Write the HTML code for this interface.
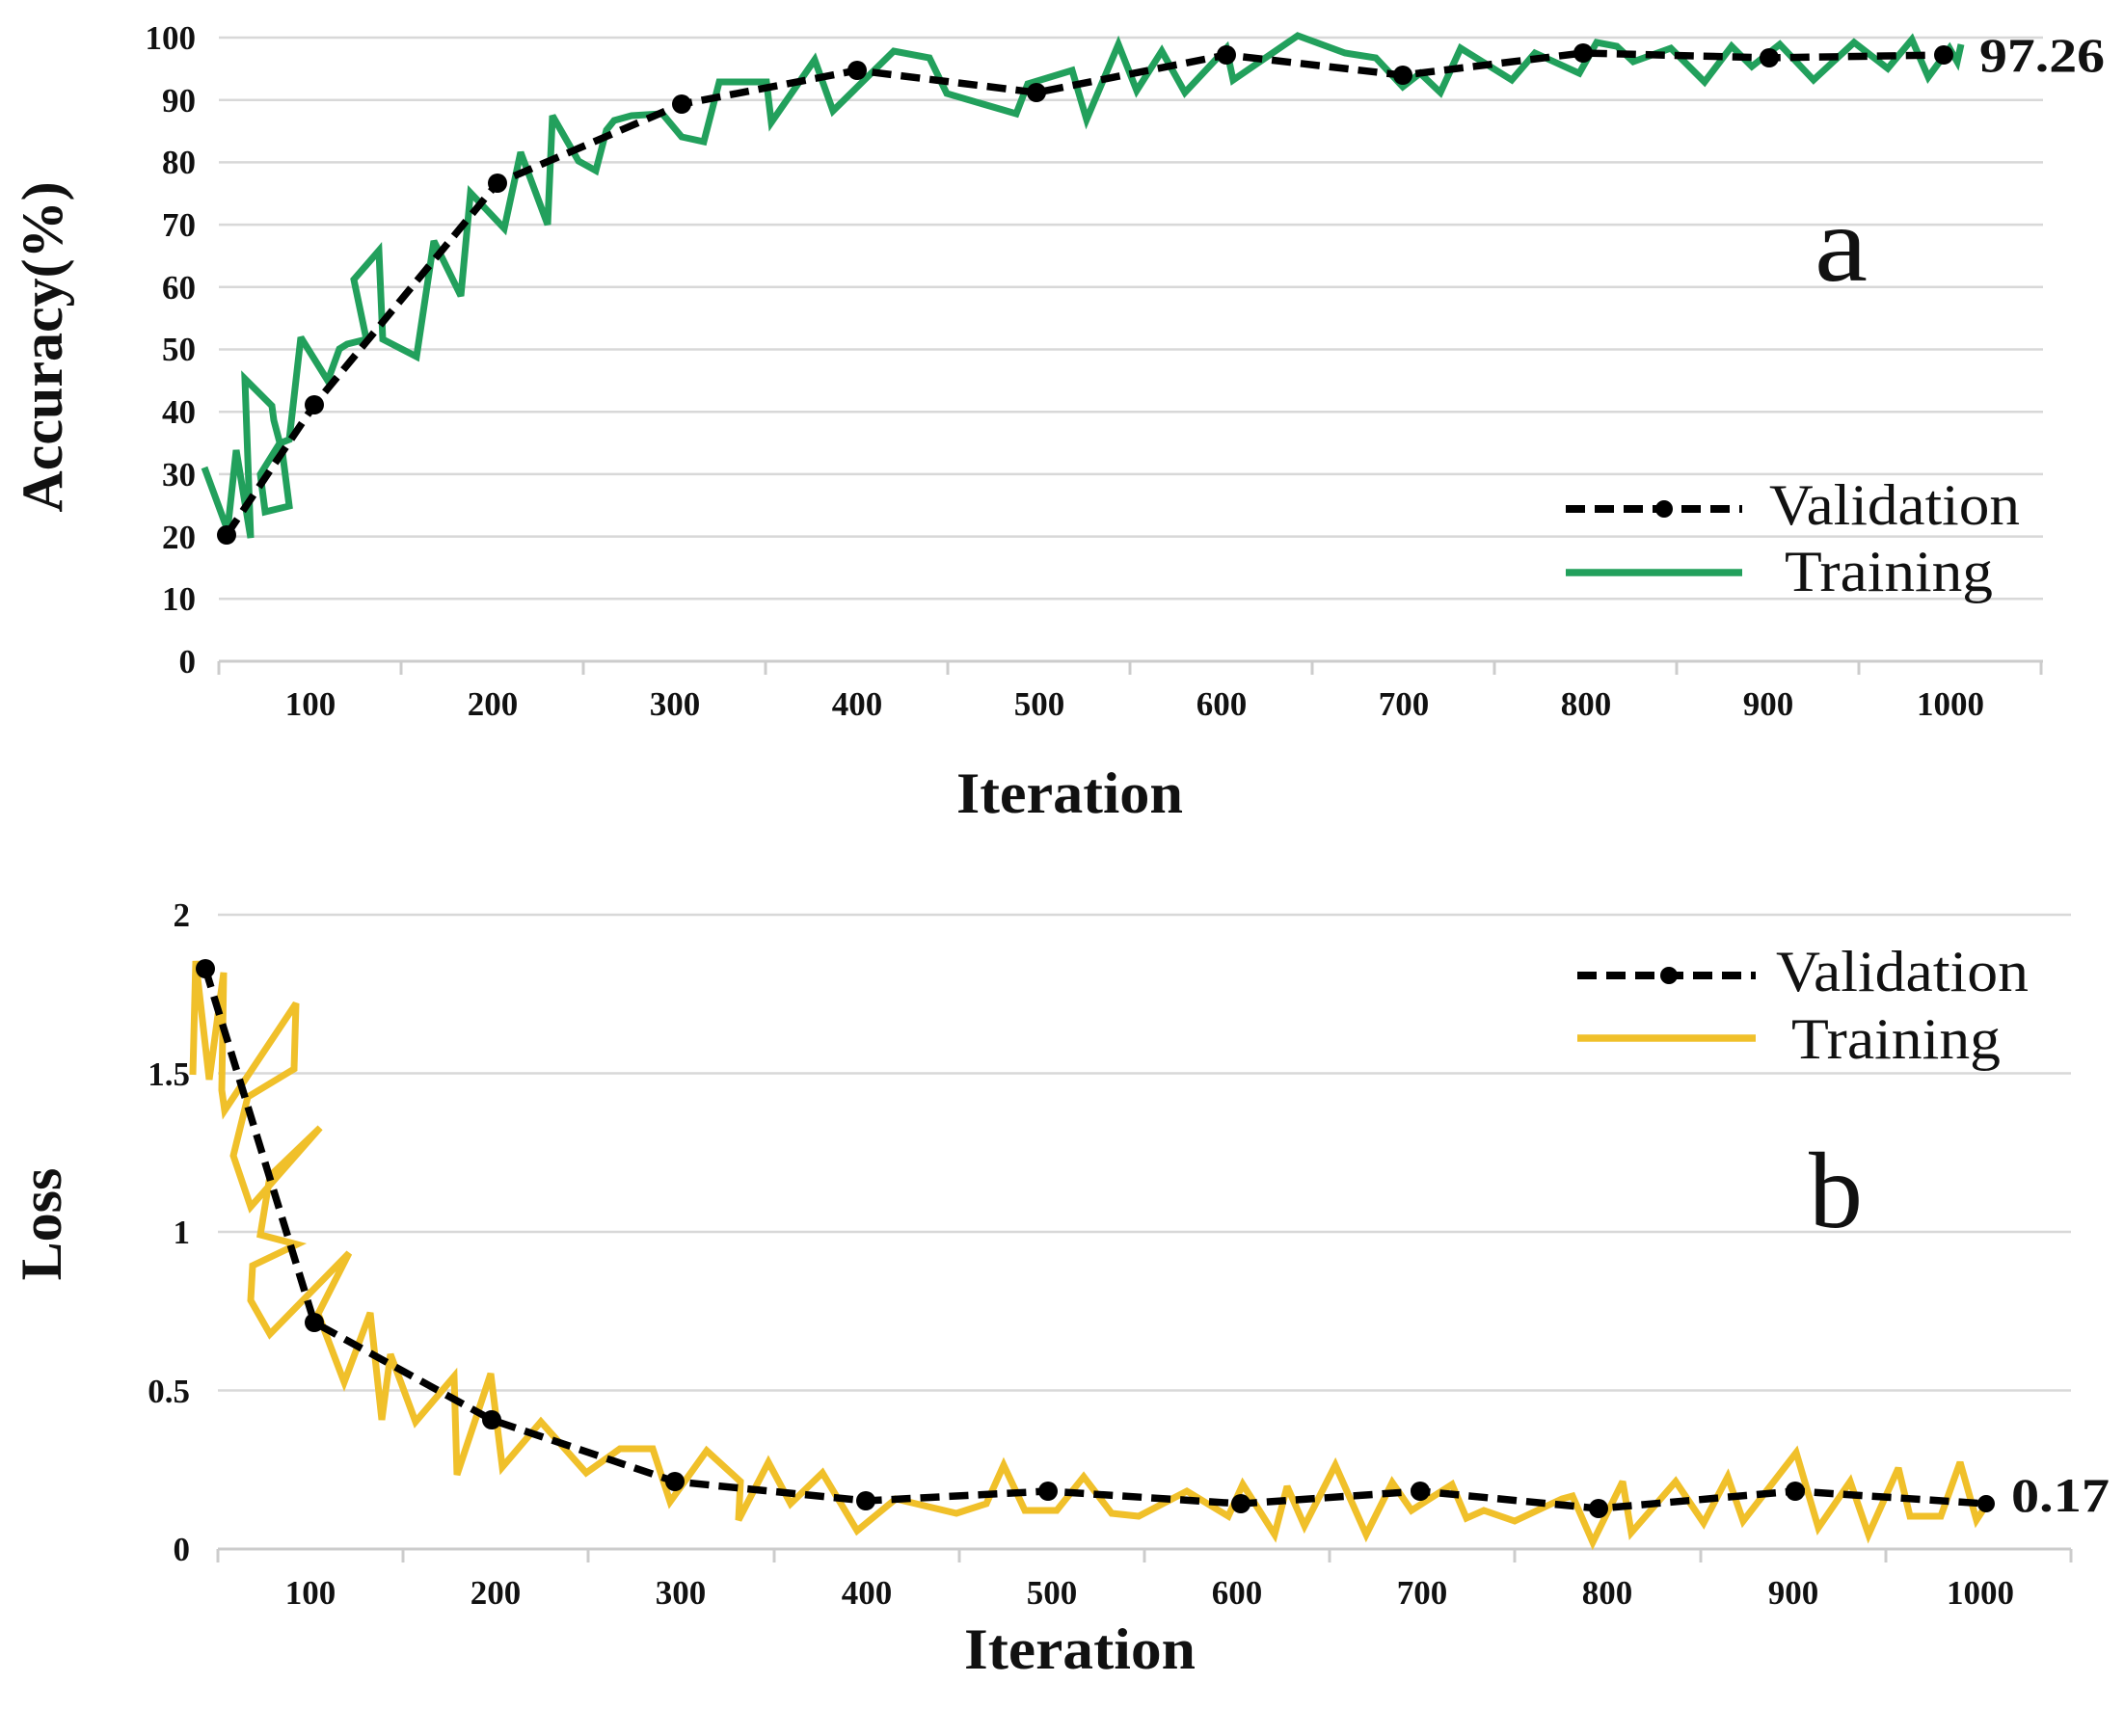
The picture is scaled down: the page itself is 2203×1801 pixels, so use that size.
<!DOCTYPE html>
<html>
<head>
<meta charset="utf-8">
<style>
  html, body { margin: 0; padding: 0; background: #ffffff; }
  svg { display: block; }
  .tick { font-family: "Liberation Serif", "Times New Roman", serif; font-weight: bold; font-size: 35px; fill: #111; }
  .title { font-family: "Liberation Serif", "Times New Roman", serif; font-weight: bold; font-size: 60px; fill: #111; }
  .leg { font-family: "Liberation Serif", "Times New Roman", serif; font-size: 60px; fill: #111; }
  .big { font-family: "Liberation Serif", "Times New Roman", serif; font-size: 112px; fill: #111; }
  .end { font-family: "Liberation Serif", "Times New Roman", serif; font-weight: bold; font-size: 50px; fill: #111; }
  .grid { stroke: #d8d8d8; stroke-width: 2.5; }
  .axis { stroke: #cccccc; stroke-width: 3; }
</style>
</head>
<body>
<svg width="2203" height="1801" viewBox="0 0 2203 1801" xmlns="http://www.w3.org/2000/svg">
  <rect x="0" y="0" width="2203" height="1801" fill="#ffffff"/>

  <!-- ================= TOP CHART (a) ================= -->
  <g>
    <line class="grid" x1="227" y1="39" x2="2119" y2="39"/>
    <line class="grid" x1="227" y1="103.7" x2="2119" y2="103.7"/>
    <line class="grid" x1="227" y1="168.4" x2="2119" y2="168.4"/>
    <line class="grid" x1="227" y1="233.1" x2="2119" y2="233.1"/>
    <line class="grid" x1="227" y1="297.8" x2="2119" y2="297.8"/>
    <line class="grid" x1="227" y1="362.5" x2="2119" y2="362.5"/>
    <line class="grid" x1="227" y1="427.2" x2="2119" y2="427.2"/>
    <line class="grid" x1="227" y1="491.9" x2="2119" y2="491.9"/>
    <line class="grid" x1="227" y1="556.6" x2="2119" y2="556.6"/>
    <line class="grid" x1="227" y1="621.3" x2="2119" y2="621.3"/>
    <line class="axis" x1="227" y1="686" x2="2119" y2="686"/>
    <g class="axis">
      <line x1="227" y1="686" x2="227" y2="700"/>
      <line x1="416" y1="686" x2="416" y2="700"/>
      <line x1="605" y1="686" x2="605" y2="700"/>
      <line x1="794" y1="686" x2="794" y2="700"/>
      <line x1="983" y1="686" x2="983" y2="700"/>
      <line x1="1172" y1="686" x2="1172" y2="700"/>
      <line x1="1361" y1="686" x2="1361" y2="700"/>
      <line x1="1550" y1="686" x2="1550" y2="700"/>
      <line x1="1739" y1="686" x2="1739" y2="700"/>
      <line x1="1928" y1="686" x2="1928" y2="700"/>
      <line x1="2117" y1="686" x2="2117" y2="700"/>
    </g>
    <g class="tick" text-anchor="end">
      <text x="203" y="51">100</text>
      <text x="203" y="116">90</text>
      <text x="203" y="180">80</text>
      <text x="203" y="245">70</text>
      <text x="203" y="310">60</text>
      <text x="203" y="374">50</text>
      <text x="203" y="439">40</text>
      <text x="203" y="504">30</text>
      <text x="203" y="569">20</text>
      <text x="203" y="633">10</text>
      <text x="203" y="698">0</text>
    </g>
    <g class="tick" text-anchor="middle">
      <text x="322" y="742">100</text>
      <text x="511" y="742">200</text>
      <text x="700" y="742">300</text>
      <text x="889" y="742">400</text>
      <text x="1078" y="742">500</text>
      <text x="1267" y="742">600</text>
      <text x="1456" y="742">700</text>
      <text x="1645" y="742">800</text>
      <text x="1834" y="742">900</text>
      <text x="2023" y="742">1000</text>
    </g>
    <text class="title" x="992" y="843" textLength="235" lengthAdjust="spacingAndGlyphs">Iteration</text>
    <text class="title" transform="translate(64,360) rotate(-90)" text-anchor="middle" font-size="58">Accuracy(%)</text>

    <polyline fill="none" stroke="#22a05c" stroke-width="7" stroke-linejoin="miter" stroke-miterlimit="3"
      points="212,485 236,550 245,467 260,558 254,393 282,421 284,436 293,470 300,525 275,531 270,492 290,460 300,456 312,350 340,395 352,362 360,357 380,352 367,290 393,260 397,352 432,370 450,250 478,307 488,200 523,237 540,158 568,233 573,120 600,167 618,177 629,135 637,125 655,120 687,118 707,142 730,147 746,85 795,85 800,127 845,62 864,115 927,53 964,60 982,97 1054,118 1066,87 1112,73 1127,124 1160,46 1179,94 1205,53 1229,96 1272,50 1279,83 1346,37 1395,55 1427,60 1455,90 1473,76 1494,96 1515,50 1568,83 1592,55 1638,76 1656,44 1677,48 1694,64 1733,50 1768,85 1796,48 1817,69 1846,46 1881,83 1923,44 1958,71 1983,41 2000,80 2022,50 2030,64 2034,46"/>

    <polyline fill="none" stroke="#000" stroke-width="7.5" stroke-dasharray="20 10"
      points="235,555 326,420 516,190 707,108 889,73 1075,96 1272,57 1455,78 1642,55 1835,60 2016,57"/>
    <g fill="#000">
      <circle cx="235" cy="555" r="10"/>
      <circle cx="326" cy="420" r="10"/>
      <circle cx="516" cy="190" r="10"/>
      <circle cx="707" cy="108" r="10"/>
      <circle cx="889" cy="73" r="10"/>
      <circle cx="1075" cy="96" r="10"/>
      <circle cx="1272" cy="57" r="10"/>
      <circle cx="1455" cy="78" r="10"/>
      <circle cx="1642" cy="55" r="10"/>
      <circle cx="1835" cy="60" r="10"/>
      <circle cx="2016" cy="57" r="10"/>
    </g>
    <text class="end" x="2053" y="74" textLength="130" lengthAdjust="spacingAndGlyphs">97.26</text>

    <text class="big" x="1882" y="291" textLength="55" lengthAdjust="spacingAndGlyphs">a</text>

    <line x1="1624" y1="528" x2="1807" y2="528" stroke="#000" stroke-width="8" stroke-dasharray="20 10"/>
    <circle cx="1726" cy="528" r="9" fill="#000"/>
    <text class="leg" x="1835" y="544" textLength="260" lengthAdjust="spacingAndGlyphs">Validation</text>
    <line x1="1624" y1="594" x2="1807" y2="594" stroke="#22a05c" stroke-width="7.5"/>
    <text class="leg" x="1851" y="613" textLength="216" lengthAdjust="spacingAndGlyphs">Training</text>
  </g>

  <!-- ================= BOTTOM CHART (b) ================= -->
  <g>
    <line class="grid" x1="226" y1="949" x2="2148" y2="949"/>
    <line class="grid" x1="226" y1="1113.5" x2="2148" y2="1113.5"/>
    <line class="grid" x1="226" y1="1278" x2="2148" y2="1278"/>
    <line class="grid" x1="226" y1="1442.5" x2="2148" y2="1442.5"/>
    <line class="axis" x1="226" y1="1607" x2="2148" y2="1607"/>
    <g class="axis">
      <line x1="226" y1="1607" x2="226" y2="1621"/>
      <line x1="418" y1="1607" x2="418" y2="1621"/>
      <line x1="610" y1="1607" x2="610" y2="1621"/>
      <line x1="803" y1="1607" x2="803" y2="1621"/>
      <line x1="995" y1="1607" x2="995" y2="1621"/>
      <line x1="1187" y1="1607" x2="1187" y2="1621"/>
      <line x1="1379" y1="1607" x2="1379" y2="1621"/>
      <line x1="1571" y1="1607" x2="1571" y2="1621"/>
      <line x1="1764" y1="1607" x2="1764" y2="1621"/>
      <line x1="1956" y1="1607" x2="1956" y2="1621"/>
      <line x1="2148" y1="1607" x2="2148" y2="1621"/>
    </g>
    <g class="tick" text-anchor="end">
      <text x="197" y="961">2</text>
      <text x="197" y="1126">1.5</text>
      <text x="197" y="1290">1</text>
      <text x="197" y="1455">0.5</text>
      <text x="197" y="1619">0</text>
    </g>
    <g class="tick" text-anchor="middle">
      <text x="322" y="1664">100</text>
      <text x="514" y="1664">200</text>
      <text x="706" y="1664">300</text>
      <text x="899" y="1664">400</text>
      <text x="1091" y="1664">500</text>
      <text x="1283" y="1664">600</text>
      <text x="1475" y="1664">700</text>
      <text x="1667" y="1664">800</text>
      <text x="1860" y="1664">900</text>
      <text x="2054" y="1664">1000</text>
    </g>
    <text class="title" x="1000" y="1731" textLength="240" lengthAdjust="spacingAndGlyphs">Iteration</text>
    <text class="title" transform="translate(63,1270) rotate(-90)" text-anchor="middle" font-size="62">Loss</text>

    <polyline fill="none" stroke="#f0c02a" stroke-width="7" stroke-linejoin="miter" stroke-miterlimit="3"
      points="200,1115 203,997 217,1120 232,1009 230,1131 233,1152 307,1041 305,1109 257,1138 242,1199 260,1252 332,1170 280,1220 270,1281 308,1291 262,1313 260,1349 280,1384 362,1300 330,1363 357,1434 384,1362 396,1473 405,1405 431,1475 471,1428 474,1530 509,1425 521,1522 561,1475 608,1528 643,1503 677,1503 695,1558 733,1505 768,1537 766,1577 797,1517 820,1560 853,1528 889,1588 929,1555 992,1570 1023,1560 1041,1520 1063,1567 1096,1567 1124,1532 1153,1570 1181,1573 1231,1547 1274,1573 1289,1540 1322,1592 1335,1542 1353,1583 1385,1520 1417,1592 1444,1538 1464,1567 1506,1540 1521,1575 1539,1567 1571,1578 1620,1555 1631,1552 1652,1600 1683,1537 1692,1590 1738,1537 1767,1580 1792,1532 1808,1578 1863,1507 1886,1585 1919,1537 1938,1592 1969,1523 1981,1573 2013,1573 2033,1517 2050,1577 2061,1560"/>

    <polyline fill="none" stroke="#000" stroke-width="7.5" stroke-dasharray="20 10"
      points="213,1005 326,1372 510,1473 700,1537 898,1557 1087,1547 1287,1560 1473,1547 1658,1565 1862,1547 2060,1560"/>
    <g fill="#000">
      <circle cx="213" cy="1005" r="10"/>
      <circle cx="326" cy="1372" r="10"/>
      <circle cx="510" cy="1473" r="10"/>
      <circle cx="700" cy="1537" r="10"/>
      <circle cx="898" cy="1557" r="10"/>
      <circle cx="1087" cy="1547" r="10"/>
      <circle cx="1287" cy="1560" r="10"/>
      <circle cx="1473" cy="1547" r="10"/>
      <circle cx="1658" cy="1565" r="10"/>
      <circle cx="1862" cy="1547" r="10"/>
      <circle cx="2060" cy="1560" r="9"/>
    </g>
    <text class="end" x="2086" y="1568" textLength="102" lengthAdjust="spacingAndGlyphs">0.17</text>

    <text class="big" x="1876" y="1273" font-size="100" textLength="56" lengthAdjust="spacingAndGlyphs">b</text>

    <line x1="1636" y1="1012" x2="1821" y2="1012" stroke="#000" stroke-width="8" stroke-dasharray="20 10"/>
    <circle cx="1731" cy="1012" r="9" fill="#000"/>
    <text class="leg" x="1842" y="1028" textLength="262" lengthAdjust="spacingAndGlyphs">Validation</text>
    <line x1="1636" y1="1077" x2="1821" y2="1077" stroke="#f0c02a" stroke-width="7.5"/>
    <text class="leg" x="1858" y="1098" textLength="217" lengthAdjust="spacingAndGlyphs">Training</text>
  </g>
</svg>
</body>
</html>
